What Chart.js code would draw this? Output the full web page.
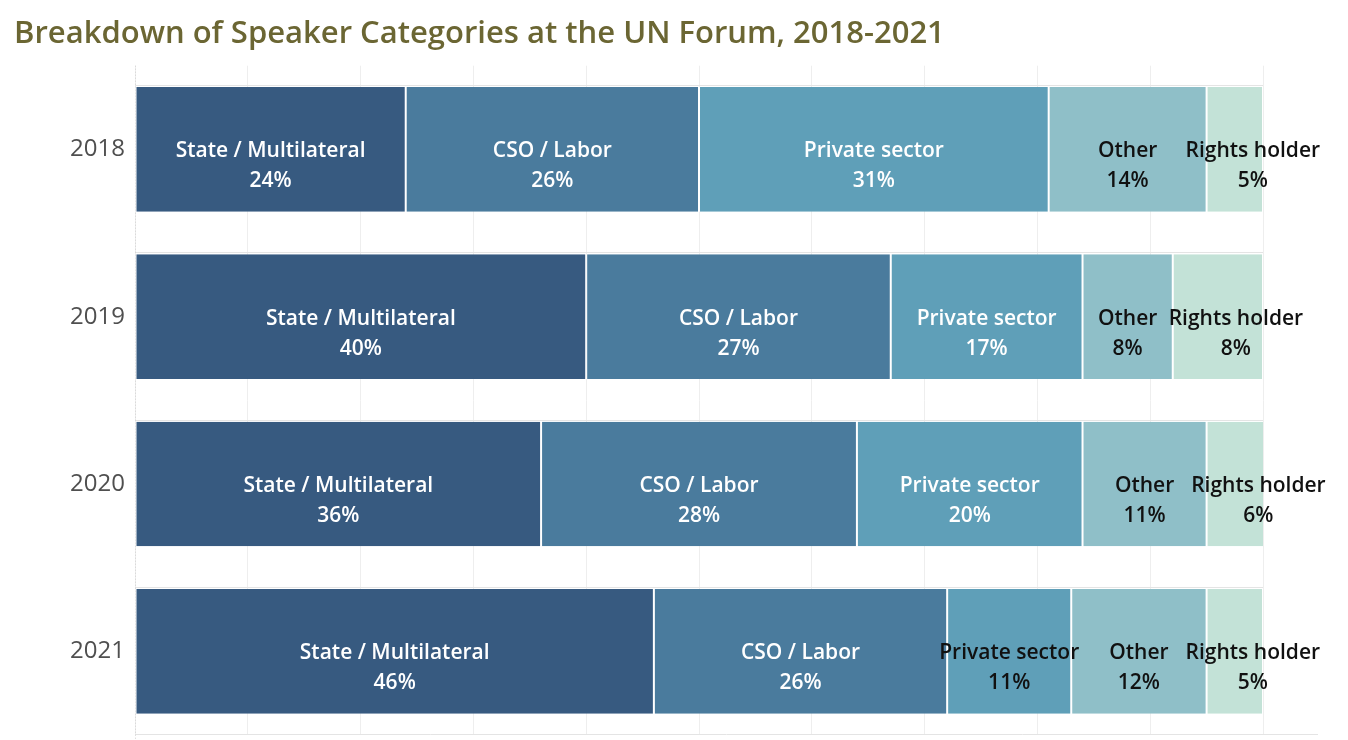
<!DOCTYPE html>
<html>
<head>
<meta charset="utf-8">
<script src="https://cdn.jsdelivr.net/npm/chart.js@4"></script>
<style>
  html, body { margin: 0; padding: 0; background: #ffffff; }
  #wrap { position: relative; width: 1348px; height: 740px; }
</style>
</head>
<body>
<div id="wrap"><canvas id="speakerChart"></canvas></div>
<script>
// Years (rows) and speaker categories (stack segments)
const years = ['2018', '2019', '2020', '2021'];
const categories = ['State / Multilateral', 'CSO / Labor', 'Private sector', 'Other', 'Rights holder'];

// Share of speakers per category, in percent, one value per year
const stateMultilateral = [24, 40, 36, 46];
const csoLabor = [26, 27, 28, 26];
const privateSector = [31, 17, 20, 11];
const other = [14, 8, 11, 12];
const rightsHolder = [5, 8, 6, 5];

const xTicks = [0, 10, 20, 30, 40, 50, 60, 70, 80, 90, 100];

const seriesValues = [stateMultilateral, csoLabor, privateSector, other, rightsHolder];
const barColors = ['#375a80', '#4a7b9d', '#5f9fb8', '#8fbfc8', '#c3e2d7'];
const labelColors = ['#ffffff', '#ffffff', '#ffffff', '#111111', '#111111'];
const labelNudge = [0, 0, 0, 0, 18];

const labelFont = '600 21px "Open Sans", sans-serif';

// Light line along the top of each row of bars (drawn behind bars)
const rowLines = {
    id: 'rowLines',
    beforeDatasetsDraw(chart) {
        const ctx = chart.ctx;
        const area = chart.chartArea;
        const meta = chart.getDatasetMeta(0);
        ctx.save();
        ctx.strokeStyle = '#e4e4e4';
        ctx.lineWidth = 1;
        meta.data.forEach(bar => {
            const y = Math.round(bar.y - bar.height / 2) - 1.5;
            ctx.beginPath();
            ctx.moveTo(area.left, y);
            ctx.lineTo(area.right, y);
            ctx.stroke();
        });
        ctx.beginPath();
        ctx.moveTo(area.left, area.bottom - 0.5);
        ctx.lineTo(area.right + 55, area.bottom - 0.5);
        ctx.stroke();
        // dotted axis at zero
        ctx.strokeStyle = '#d0d0d0';
        ctx.setLineDash([1, 2]);
        ctx.beginPath();
        ctx.moveTo(area.left + 0.5, area.top);
        ctx.lineTo(area.left + 0.5, chart.height);
        ctx.stroke();
        ctx.restore();
    }
};

// Two-line labels (category name + percent) in the middle of each segment
const segmentLabels = {
    id: 'segmentLabels',
    afterDatasetsDraw(chart) {
        const ctx = chart.ctx;
        ctx.save();
        ctx.font = labelFont;
        ctx.textAlign = 'center';
        ctx.textBaseline = 'middle';
        chart.data.datasets.forEach((ds, di) => {
            const meta = chart.getDatasetMeta(di);
            meta.data.forEach((bar, i) => {
                const name = ds.label;
                const pct = ds.data[i] + '%';
                const w = Math.abs(bar.x - bar.base);
                const cx = (bar.x + bar.base) / 2 + labelNudge[di];
                const fits = ctx.measureText(name).width < w - 4;
                ctx.fillStyle = fits ? labelColors[di] : '#111111';
                ctx.fillText(name, cx, bar.y + 2);
                ctx.fillText(pct, cx, bar.y + 32);
            });
        });
        ctx.restore();
    }
};

new Chart(document.getElementById('speakerChart'), {
    type: 'bar',
    data: {
        labels: years,
        datasets: categories.map((name, i) => ({
            label: name,
            data: seriesValues[i],
            backgroundColor: barColors[i],
            borderColor: '#ffffff',
            borderWidth: { left: 1, right: 1, top: 0, bottom: 0 },
            borderSkipped: false,
            categoryPercentage: 1,
            barPercentage: 0.745
        }))
    },
    options: {
        indexAxis: 'y',
        responsive: true,
        maintainAspectRatio: false,
        animation: false,
        layout: { padding: { left: 14, right: 85, top: 0, bottom: 5 } },
        plugins: {
            legend: { display: false },
            tooltip: { enabled: false },
            title: {
                display: true,
                text: 'Breakdown of Speaker Categories at the UN Forum, 2018-2021',
                align: 'start',
                color: '#6b6633',
                font: { family: '"Open Sans", sans-serif', size: 31, weight: '600' },
                padding: { top: 16, bottom: 12.5 }
            }
        },
        scales: {
            x: {
                stacked: true,
                min: 0,
                max: 100,
                afterBuildTicks: scale => { scale.ticks = xTicks.map(v => ({ value: v })); },
                afterFit: scale => { scale.height = 0; },
                ticks: { display: false },
                border: { display: false },
                grid: { color: '#eeeeee', drawTicks: false }
            },
            y: {
                stacked: true,
                afterFit: scale => {
                    scale.width = 121;
                    scale.paddingTop = 0;
                    scale.paddingBottom = 0;
                },
                ticks: {
                    color: '#4f4f4f',
                    padding: 2,
                    font: { family: '"Open Sans", sans-serif', size: 24 }
                },
                border: { display: false },
                grid: { display: false }
            }
        }
    },
    plugins: [rowLines, segmentLabels]
});
</script>
</body>
</html>
